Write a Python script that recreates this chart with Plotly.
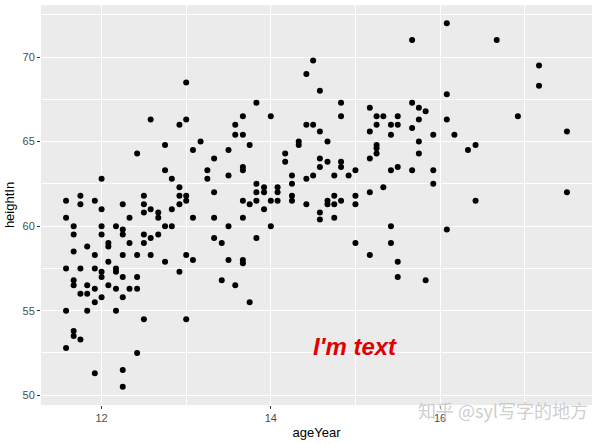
import plotly.graph_objects as go

age_year = [
    12.58, 12.92, 13.0, 14.42, 13.83, 13.67, 14.0, 13.0, 13.58, 14.42, 13.58, 13.67,
    15.67, 14.5, 14.58, 14.83, 14.83, 14.5, 14.58, 15.17, 15.25, 15.33, 15.5, 15.67,
    15.75, 15.83, 15.75, 15.25, 15.42, 15.5, 15.67, 15.17, 15.42, 15.92, 16.08, 16.67,
    17.17, 17.17, 16.08, 16.08, 16.92, 16.17, 17.5,
    12.75, 12.42, 12.75, 12.0, 12.83, 12.92, 12.92, 11.75, 12.5, 11.58, 11.92, 11.75,
    12.25, 12.5, 12.92, 12.0, 12.58, 12.83, 12.5, 12.67, 12.67, 12.33, 11.58, 11.67,
    12.0, 12.17, 12.75, 12.83, 12.25, 12.25, 11.67, 12.0, 12.5, 12.67, 12.58, 12.33,
    12.5, 12.08, 12.08, 11.83, 11.67, 11.92, 12.25, 12.42, 12.58, 12.08, 12.75,
    13.17, 13.08, 13.5, 13.75, 14.33, 14.33, 14.17, 14.17, 13.33, 13.25, 13.25, 13.67,
    13.67, 13.5, 14.25, 14.42, 13.83, 13.92, 13.92, 14.08, 14.08, 14.25, 13.83, 14.25,
    14.25, 14.42, 13.0, 13.0, 13.33, 13.67, 13.75, 13.83, 14.0, 14.08, 13.92, 13.08,
    13.33, 13.67, 13.5, 14.0, 13.33, 13.42, 13.83, 13.0, 13.08, 13.5, 13.67, 13.67,
    14.67, 15.75, 15.75, 15.25, 15.25, 15.25, 15.17, 14.58, 14.67, 14.83, 14.83, 14.58,
    15.0, 15.42, 15.5, 15.67, 15.92, 14.5, 14.75, 14.92, 15.92, 15.33, 15.17, 15.0,
    14.75, 14.67, 14.67, 14.75, 14.83, 15.0, 14.58, 14.58, 14.75, 15.42, 15.0, 15.42,
    15.17, 15.5, 15.5, 15.83,
    16.33, 16.42, 17.5, 16.42, 16.08,
    11.58, 11.75, 11.92, 12.0, 12.0, 12.17, 12.17, 12.25, 12.42, 12.92, 11.67, 11.67,
    11.83, 12.08, 11.92, 12.17, 12.33, 12.42, 11.75, 11.83, 12.0, 12.25, 11.92, 11.58,
    11.83, 12.17, 12.5, 11.67, 11.67, 11.75, 11.58, 12.42, 12.25, 11.92, 12.25,
    13.42, 13.58, 13.75, 13.0,
]

height_in = [
    66.3, 66.0, 68.5, 69.0, 67.3, 66.5, 66.5, 66.3, 66.0, 66.0, 65.4, 65.4,
    71.0, 69.8, 68.0, 67.3, 66.5, 66.0, 65.6, 67.0, 66.5, 66.5, 66.5, 67.3,
    67.0, 66.8, 66.3, 66.0, 66.0, 66.0, 65.8, 65.6, 65.4, 65.4, 72.0, 71.0,
    69.5, 68.3, 67.8, 66.3, 66.5, 65.4, 65.6,
    64.8, 64.3, 63.3, 62.8, 62.8, 62.3, 61.8, 61.8, 61.8, 61.5, 61.5, 61.3,
    61.3, 61.3, 61.3, 61.0, 61.0, 61.0, 60.8, 60.8, 60.5, 60.5, 60.5, 60.0,
    60.0, 60.0, 60.0, 60.0, 59.8, 59.5, 59.5, 59.5, 59.5, 59.5, 59.3, 59.0,
    59.0, 59.0, 58.8, 58.8, 58.5, 58.3, 58.3, 58.3, 58.3, 57.9, 57.9,
    65.0, 64.5, 64.5, 64.8, 65.0, 64.8, 64.3, 63.8, 64.0, 63.3, 62.8, 63.5,
    63.3, 63.0, 63.0, 62.8, 62.5, 62.3, 62.0, 62.3, 62.0, 62.5, 62.0, 61.8,
    61.5, 61.3, 61.8, 61.5, 62.0, 61.5, 61.3, 61.5, 61.5, 61.5, 61.0, 60.5,
    60.5, 60.5, 60.0, 60.0, 59.3, 59.0, 59.3, 58.3, 58.0, 58.0, 58.0, 57.8,
    65.0, 65.0, 64.3, 64.8, 64.6, 64.3, 64.0, 64.0, 63.8, 63.8, 63.5, 63.5,
    63.3, 63.3, 63.5, 63.3, 63.3, 63.0, 63.0, 63.0, 62.5, 62.3, 62.0, 61.8,
    61.8, 61.5, 61.3, 61.3, 61.5, 61.3, 60.8, 60.4, 60.5, 60.0, 59.0, 59.0,
    58.3, 57.9, 57.0, 56.8,
    64.5, 64.8, 62.0, 61.5, 59.8,
    57.5, 57.5, 57.5, 57.3, 57.0, 57.5, 57.3, 57.0, 57.0, 57.3, 56.8, 56.5,
    56.5, 56.5, 56.3, 56.3, 56.3, 56.3, 56.0, 56.0, 55.8, 55.8, 55.5, 55.0,
    55.0, 55.0, 54.5, 53.8, 53.5, 53.3, 52.8, 52.5, 51.5, 51.3, 50.5,
    56.8, 56.5, 55.5, 54.5,
]

x_ticks = [12, 14, 16]
x_minor = [13, 15, 17]
y_ticks = [50, 55, 60, 65, 70]
y_minor = [52.5, 57.5, 62.5, 67.5, 72.5]

label_text = "I'm text"
label_x = 15.0
label_y = 52.9
watermark = "知乎 @syl写字的地方"

FONT = "Liberation Sans, Arial, sans-serif"

fig = go.Figure()
fig.add_trace(go.Scatter(
    x=age_year, y=height_in, mode="markers",
    marker=dict(color="black", size=6, line=dict(width=0)),
    hoverinfo="skip",
))

fig.add_annotation(
    x=label_x, y=label_y, xref="x", yref="y",
    text="<b><i>" + label_text + "</i></b>", showarrow=False,
    font=dict(family=FONT, size=24, color="#E00000"),
    xanchor="center", yanchor="middle",
)

fig.add_annotation(
    x=1.0, y=0.0, xref="paper", yref="paper",
    text=watermark, showarrow=False,
    font=dict(family="Noto Sans CJK SC, sans-serif", size=18, color="rgba(200,200,200,0.9)"),
    xanchor="right", yanchor="middle", xshift=-2, yshift=-5,
)

axis_common = dict(
    showgrid=True, gridcolor="white", gridwidth=1.3,
    zeroline=False, showline=False, automargin=False,
    ticks="outside", ticklen=3, tickwidth=1, tickcolor="#333333",
    tickfont=dict(family=FONT, size=11, color="#4D4D4D"),
)

fig.update_xaxes(
    range=[11.284, 17.796], tickvals=x_ticks, ticktext=[str(v) for v in x_ticks],
    minor=dict(tickvals=x_minor, showgrid=True, gridcolor="white", gridwidth=0.6, ticks=""),
    title=dict(text="ageYear", font=dict(family=FONT, size=13, color="black"), standoff=4),
    **axis_common,
)
fig.update_yaxes(
    range=[49.425, 73.075], tickvals=y_ticks, ticktext=[str(v) for v in y_ticks],
    minor=dict(tickvals=y_minor, showgrid=True, gridcolor="white", gridwidth=0.6, ticks=""),
    title=dict(text="heightIn", font=dict(family=FONT, size=13, color="black"), standoff=4),
    **axis_common,
)

fig.update_layout(
    width=600, height=444,
    margin=dict(l=41, r=8, t=5, b=39),
    plot_bgcolor="#EBEBEB", paper_bgcolor="white",
    showlegend=False,
)

fig.write_html(
    "out.html",
    config={"displayModeBar": False},
    post_script="document.body.style.margin='0';document.body.style.overflow='hidden';",
)
